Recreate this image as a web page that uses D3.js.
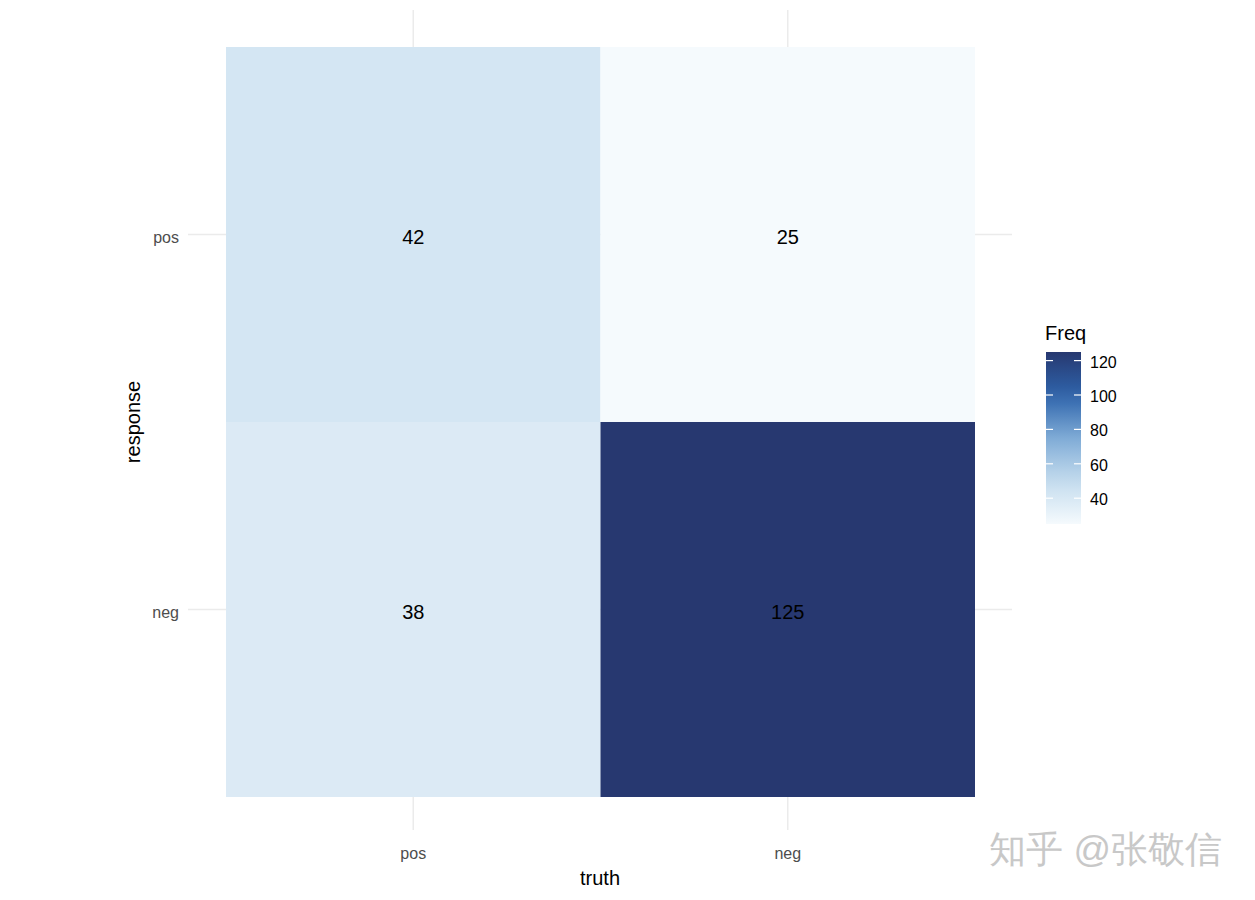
<!DOCTYPE html><html><head><meta charset="utf-8"><script src="https://d3js.org/d3.v7.min.js"></script>
<style>body{margin:0;background:#fff}text{font-family:Arial,"Liberation Sans",sans-serif}</style></head><body>
<svg id="c" width="1255" height="900"></svg>
<script>
const truth=["pos","neg"];
const response=["pos","neg"];
const freq=[{t:"pos",r:"pos",v:42},{t:"neg",r:"pos",v:25},{t:"pos",r:"neg",v:38},{t:"neg",r:"neg",v:125}];
const legendTicks=[40,60,80,100,120];
const svg=d3.select("#c");
const x=d3.scaleBand().domain(truth).range([226,975]);
const y=d3.scaleBand().domain(response).range([47,797]);
const color=d3.scaleLinear().domain([25,50,75,100,125]).range(["#f5fafd","#c4dcee","#7fabd6","#2e64ab","#273870"]);
const g=svg.append("g");
truth.forEach(t=>g.append("line").attr("x1",x(t)+x.bandwidth()/2).attr("x2",x(t)+x.bandwidth()/2).attr("y1",10).attr("y2",830).attr("stroke","#ebebeb").attr("stroke-width",1.5));
response.forEach(r=>g.append("line").attr("y1",y(r)+y.bandwidth()/2).attr("y2",y(r)+y.bandwidth()/2).attr("x1",188).attr("x2",1012).attr("stroke","#ebebeb").attr("stroke-width",1.5));
g.selectAll("rect.c").data(freq).enter().append("rect").attr("x",d=>x(d.t)).attr("y",d=>y(d.r)).attr("width",x.bandwidth()).attr("height",y.bandwidth()).attr("fill",d=>color(d.v));
g.selectAll("text.v").data(freq).enter().append("text").attr("x",d=>x(d.t)+x.bandwidth()/2).attr("y",d=>y(d.r)+y.bandwidth()/2+9).attr("text-anchor","middle").attr("font-size",20).attr("fill","#000").text(d=>d.v);
truth.forEach(t=>svg.append("text").attr("x",x(t)+x.bandwidth()/2).attr("y",859).attr("text-anchor","middle").attr("font-size",16).attr("fill","#4d4d4d").text(t));
response.forEach(r=>svg.append("text").attr("x",179).attr("y",y(r)+y.bandwidth()/2+8).attr("text-anchor","end").attr("font-size",16).attr("fill","#4d4d4d").text(r));
svg.append("text").attr("x",600).attr("y",885).attr("text-anchor","middle").attr("font-size",20).text("truth");
svg.append("text").attr("transform","translate(140,422) rotate(-90)").attr("text-anchor","middle").attr("font-size",20).text("response");
const ly=d3.scaleLinear().domain([25,125]).range([524,352]);
const defs=svg.append("defs");const gr=defs.append("linearGradient").attr("id","lg").attr("x1",0).attr("x2",0).attr("y1",1).attr("y2",0);
d3.range(0,11).forEach(i=>{const v=25+i*10;gr.append("stop").attr("offset",i/10).attr("stop-color",color(v));});
svg.append("rect").attr("x",1046).attr("y",352).attr("width",35).attr("height",172).attr("fill","url(#lg)");
legendTicks.forEach(v=>{const yy=ly(v);
svg.append("line").attr("x1",1046).attr("x2",1053).attr("y1",yy).attr("y2",yy).attr("stroke","#fff").attr("stroke-width",1.2);
svg.append("line").attr("x1",1074).attr("x2",1081).attr("y1",yy).attr("y2",yy).attr("stroke","#fff").attr("stroke-width",1.2);
svg.append("text").attr("x",1090).attr("y",yy+7).attr("font-size",16).text(v);});
svg.append("text").attr("x",1045).attr("y",340).attr("font-size",20).text("Freq");
svg.append("text").attr("x",1222).attr("y",862).attr("text-anchor","end").attr("font-size",37).attr("fill","#c8c8c8").attr("font-family","Noto Sans CJK SC").text("知乎 @张敬信");
</script></body></html>
